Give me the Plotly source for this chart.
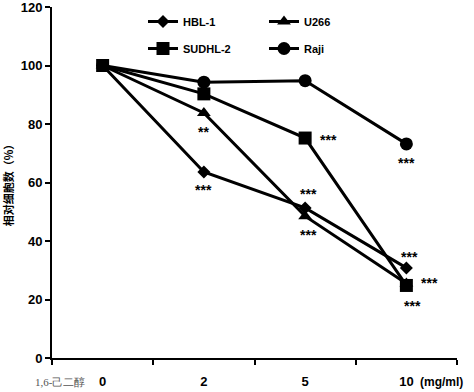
import plotly.graph_objects as go

doses = ["0", "2", "5", "10"]
hbl1 = [100, 63.6, 51.3, 30.8]
u266 = [100, 83.8, 48.5, 25.5]
sudhl2 = [100, 90.3, 75.2, 24.8]
raji = [100, 94.3, 94.8, 73.2]
y_ticks = [0, 20, 40, 60, 80, 100, 120]

FONT = "Liberation Sans, Arial, sans-serif"

fig = go.Figure()

series = [
    ("HBL-1", hbl1, "diamond", 10, "legend", "g1"),
    ("U266", u266, "triangle-up", 12, "legend2", "g2"),
    ("SUDHL-2", sudhl2, "square", 13, "legend", "g3"),
    ("Raji", raji, "circle", 13, "legend2", "g4"),
]
for name, vals, sym, size, lg, grp in series:
    fig.add_trace(go.Scatter(
        x=doses, y=vals, name=name, mode="lines+markers",
        line=dict(color="black", width=3),
        marker=dict(symbol=sym, size=size, color="black"),
        legend=lg, legendgroup=grp,
    ))

# significance marks: (dose, value, text, xshift, yshift)
stars = [
    ("2", u266[1], "**", 0, -19),
    ("2", hbl1[1], "***", 0, -18),
    ("5", sudhl2[2], "***", 23, -2),
    ("10", raji[3], "***", 0, -19),
    ("5", hbl1[2], "***", 3, 14),
    ("5", u266[2], "***", 3, -19),
    ("10", hbl1[3], "***", 3, 11),
    ("10", sudhl2[3], "***", 23, 2),
    ("10", sudhl2[3], "***", 6, -21),
]
for d, y, t, xs, ys in stars:
    fig.add_annotation(x=doses.index(d), y=y, text="<b>" + t + "</b>", showarrow=False,
                       xshift=xs, yshift=ys,
                       font=dict(family=FONT, size=14, color="black"))

fig.add_annotation(xref="paper", yref="paper", x=(33 - 52) / 405, y=-0.068,
                   xanchor="left", yanchor="middle", text="1,6-己二醇",
                   showarrow=False,
                   font=dict(family="Liberation Serif, serif", size=11, color="#555"))
fig.add_annotation(xref="paper", yref="paper", x=1.02, y=-0.068,
                   xanchor="right", yanchor="middle", text="<b>(mg/ml)</b>",
                   showarrow=False,
                   font=dict(family=FONT, size=12, color="black"))

legend_style = dict(
    xanchor="left", yanchor="top",
    bgcolor="rgba(0,0,0,0)",
    font=dict(family=FONT, size=11, color="black", weight="bold"),
    tracegroupgap=8, itemwidth=30, orientation="v",
)
fig.update_layout(
    width=474, height=392,
    margin=dict(l=52, r=17, t=7, b=34, autoexpand=False),
    plot_bgcolor="white", paper_bgcolor="white",
    showlegend=True,
    legend=dict(x=(143 - 52) / 405, y=1.0, **legend_style),
    legend2=dict(x=(264 - 52) / 405, y=1.0, **legend_style),
    xaxis=dict(
        type="category", categoryorder="array", categoryarray=doses,
        range=[-0.5, 3.5], tickson="boundaries",
        showline=True, linecolor="black", linewidth=2,
        ticks="outside", ticklen=5, tickwidth=2, tickcolor="black",
        showgrid=False, zeroline=False, ticklabelstandoff=10,
        tickfont=dict(family=FONT, size=13, color="black", weight="bold"),
    ),
    yaxis=dict(
        range=[0, 120], tickvals=y_ticks, ticklabeloverflow="allow",
        showline=True, linecolor="black", linewidth=2,
        ticks="outside", ticklen=5, tickwidth=2, tickcolor="black",
        showgrid=False, zeroline=False,
        tickfont=dict(family=FONT, size=13, color="black", weight="bold"),
        title=dict(text="相对细胞数（%）", standoff=12,
                   font=dict(family="Noto Sans CJK SC, sans-serif", size=11, color="black",
                             weight="bold")),
    ),
)

fig.write_html("out.html", config={"displayModeBar": False},
               post_script="document.body.style.margin='0';document.body.style.overflow='hidden';")
